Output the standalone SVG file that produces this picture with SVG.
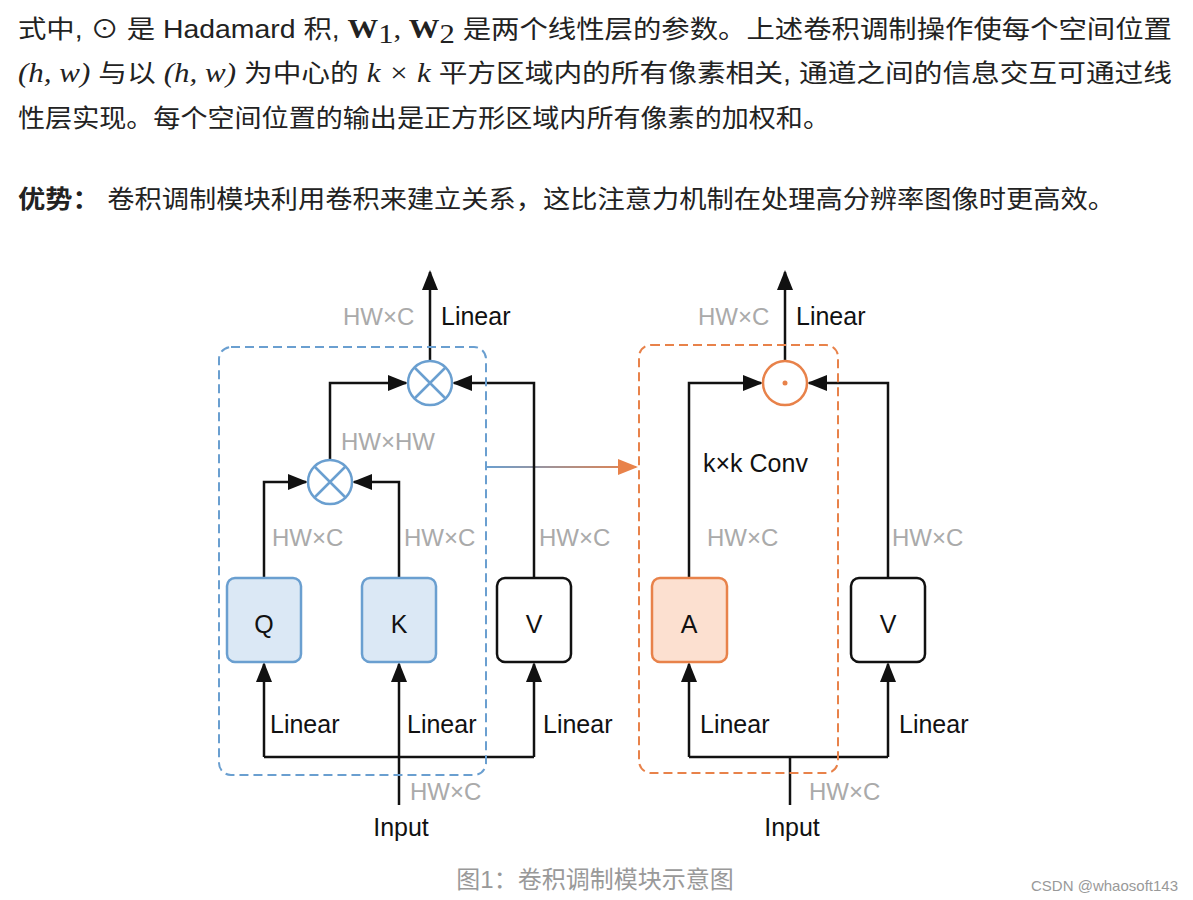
<svg xmlns="http://www.w3.org/2000/svg" width="1193" height="900" viewBox="0 0 1193 900">
<defs>
<style>
.t{font-family:"Liberation Sans","Noto Sans CJK SC",sans-serif;font-size:25px;fill:#222}
.m{font-family:"Liberation Serif",serif;font-size:27px;fill:#222}
.g{font-family:"Liberation Sans",sans-serif;font-size:24px;fill:#aaa}
.b{font-family:"Liberation Sans",sans-serif;font-size:25px;fill:#111}
.w{fill:none;stroke:#111;stroke-width:2.5}
</style>
<marker id="ah2" viewBox="0 0 10 10" refX="9" refY="5" markerWidth="20" markerHeight="20" markerUnits="userSpaceOnUse" orient="auto"><path d="M0,1L10,5L0,9z" fill="#111"/></marker>
<marker id="ao" viewBox="0 0 10 10" refX="9" refY="5" markerWidth="20" markerHeight="20" markerUnits="userSpaceOnUse" orient="auto"><path d="M0,1L10,5L0,9z" fill="#e8824a"/></marker>
<linearGradient id="gr" gradientUnits="userSpaceOnUse" x1="486" y1="0" x2="636" y2="0"><stop offset="0" stop-color="#6a9fd0"/><stop offset="1" stop-color="#e8824a"/></linearGradient>
</defs>
<rect width="1193" height="900" fill="#fff"/>
<text class="t" x="18" y="38" textLength="1154" lengthAdjust="spacingAndGlyphs">式中, ⊙ 是 Hadamard 积, <tspan class="m" font-weight="bold">W</tspan><tspan class="m" font-size="18" dy="5">1</tspan><tspan class="m" dy="-5">, </tspan><tspan class="m" font-weight="bold">W</tspan><tspan class="m" font-size="18" dy="5">2</tspan><tspan dy="-5"> 是两个线性层的参数。上述卷积调制操作使每个空间位置</tspan></text>
<text class="t" x="18" y="82" textLength="1154" lengthAdjust="spacingAndGlyphs"><tspan class="m" font-style="italic">(h, w)</tspan> 与以 <tspan class="m" font-style="italic">(h, w)</tspan> 为中心的 <tspan class="m" font-style="italic">k × k</tspan> 平方区域内的所有像素相关, 通道之间的信息交互可通过线</text>
<text class="t" x="18" y="127" textLength="812" lengthAdjust="spacingAndGlyphs">性层实现。每个空间位置的输出是正方形区域内所有像素的加权和。</text>
<text class="t" x="18" y="208" textLength="1097" lengthAdjust="spacingAndGlyphs"><tspan font-weight="bold">优势：</tspan> 卷积调制模块利用卷积来建立关系，这比注意力机制在处理高分辨率图像时更高效。</text>

<g id="connectors">
<path d="M486,467H636" fill="none" stroke="url(#gr)" stroke-width="2" marker-end="url(#ao)"/>
<path class="w" d="M430,361V272" marker-end="url(#ah2)"/>
<path class="w" d="M330,460V383H406" marker-end="url(#ah2)"/>
<path class="w" d="M534,578V383H454" marker-end="url(#ah2)"/>
<path class="w" d="M264,578V482H306" marker-end="url(#ah2)"/>
<path class="w" d="M399,578V482H354" marker-end="url(#ah2)"/>
<path class="w" d="M264,757H534"/>
<path class="w" d="M264,757V664" marker-end="url(#ah2)"/>
<path class="w" d="M399,805V664" marker-end="url(#ah2)"/>
<path class="w" d="M534,757V664" marker-end="url(#ah2)"/>
<path class="w" d="M785,361V272" marker-end="url(#ah2)"/>
<path class="w" d="M689,578V383H761" marker-end="url(#ah2)"/>
<path class="w" d="M888,578V383H809" marker-end="url(#ah2)"/>
<path class="w" d="M689,757H888"/>
<path class="w" d="M790,805V757"/>
<path class="w" d="M689,757V664" marker-end="url(#ah2)"/>
<path class="w" d="M888,757V664" marker-end="url(#ah2)"/>
</g>
<g id="blueBox"><rect x="219" y="347" width="267" height="428" rx="12" fill="none" stroke="#6a9fd0" stroke-width="2" stroke-dasharray="9,5"/></g>
<g id="orangeBox"><rect x="639" y="345" width="199" height="428" rx="12" fill="none" stroke="#e8824a" stroke-width="2" stroke-dasharray="9,5"/></g>
<g id="mul1"><circle cx="430" cy="383" r="22" fill="#fff" stroke="#6a9fd0" stroke-width="2.5"/><path d="M414.5,367.5L445.5,398.5M445.5,367.5L414.5,398.5" stroke="#6a9fd0" stroke-width="2.5"/></g>
<g id="mul2"><circle cx="330" cy="482" r="22" fill="#fff" stroke="#6a9fd0" stroke-width="2.5"/><path d="M314.5,466.5L345.5,497.5M345.5,466.5L314.5,497.5" stroke="#6a9fd0" stroke-width="2.5"/></g>
<g id="had"><circle cx="785" cy="383" r="22" fill="#fff" stroke="#e8824a" stroke-width="2.5"/><circle cx="785" cy="383" r="2.5" fill="#e8824a"/></g>
<g id="Q"><rect x="227" y="578" width="74" height="84" rx="8" fill="#dbe8f5" stroke="#6a9fd0" stroke-width="2.5"/><text class="b" x="264" y="633" text-anchor="middle" font-size="30">Q</text></g>
<g id="K"><rect x="362" y="578" width="74" height="84" rx="8" fill="#dbe8f5" stroke="#6a9fd0" stroke-width="2.5"/><text class="b" x="399" y="633" text-anchor="middle" font-size="30">K</text></g>
<g id="V1"><rect x="497" y="578" width="74" height="84" rx="8" fill="#fff" stroke="#111" stroke-width="2.5"/><text class="b" x="534" y="633" text-anchor="middle" font-size="30">V</text></g>
<g id="A"><rect x="652" y="578" width="75" height="84" rx="8" fill="#fce0d0" stroke="#e8824a" stroke-width="2.5"/><text class="b" x="689" y="633" text-anchor="middle" font-size="30">A</text></g>
<g id="V2"><rect x="851" y="578" width="74" height="84" rx="8" fill="#fff" stroke="#111" stroke-width="2.5"/><text class="b" x="888" y="633" text-anchor="middle" font-size="30">V</text></g>
<g id="labels">
<text class="g" x="343" y="325">HW×C</text><text class="b" x="441" y="325">Linear</text>
<text class="g" x="341" y="450">HW×HW</text>
<text class="g" x="272" y="546">HW×C</text><text class="g" x="404" y="546">HW×C</text><text class="g" x="539" y="546">HW×C</text>
<text class="b" x="270" y="733">Linear</text><text class="b" x="407" y="733">Linear</text><text class="b" x="543" y="733">Linear</text>
<text class="g" x="410" y="800">HW×C</text>
<text class="b" x="401" y="836" text-anchor="middle" font-size="34">Input</text>
<text class="g" x="698" y="325">HW×C</text><text class="b" x="796" y="325">Linear</text>
<text class="b" x="703" y="472">k×k Conv</text>
<text class="g" x="707" y="546">HW×C</text><text class="g" x="892" y="546">HW×C</text>
<text class="b" x="700" y="733">Linear</text><text class="b" x="899" y="733">Linear</text>
<text class="g" x="809" y="800">HW×C</text>
<text class="b" x="792" y="836" text-anchor="middle" font-size="34">Input</text>
</g>
<text class="t" x="595" y="888" text-anchor="middle" style="fill:#999;font-size:24px">图1：卷积调制模块示意图</text>
<text x="1178" y="891" text-anchor="end" font-family="Liberation Sans, sans-serif" font-size="15" fill="#999">CSDN @whaosoft143</text>
</svg>
